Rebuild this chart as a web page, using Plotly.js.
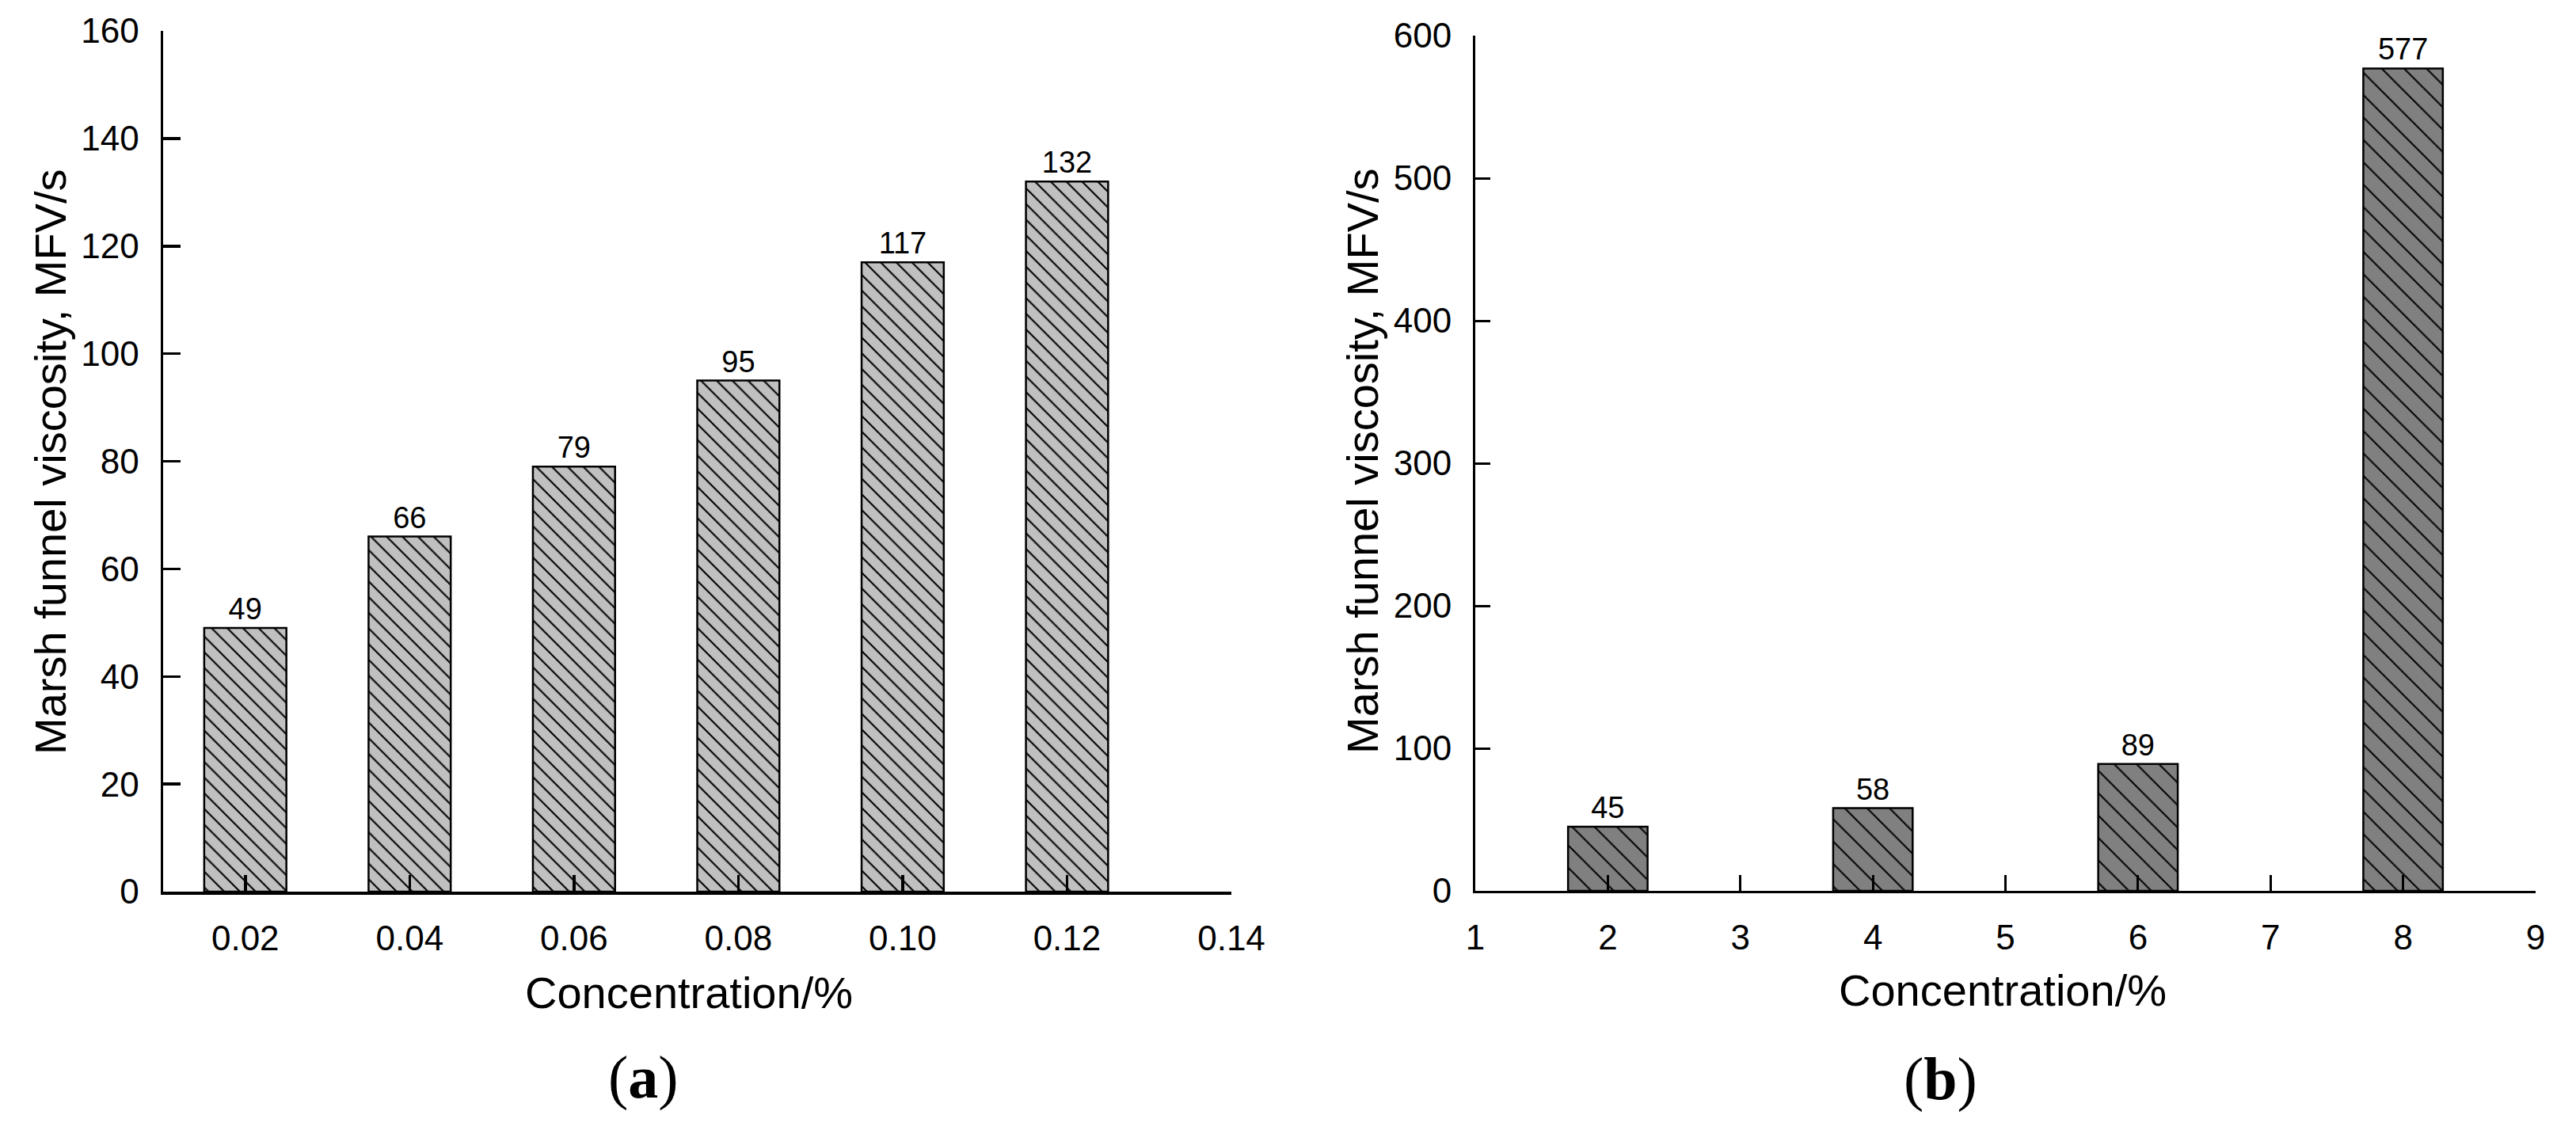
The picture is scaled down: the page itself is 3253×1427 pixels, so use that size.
<!DOCTYPE html>
<html>
<head>
<meta charset="utf-8">
<script src="https://cdn.plot.ly/plotly-3.0.1.min.js"></script>
<style>html,body{margin:0;padding:0;background:#fff;}#chart{width:3253px;height:1427px;}</style>
</head>
<body>
<div id="chart"></div>
<script>
// Panel (a)
const concA = [0.02, 0.04, 0.06, 0.08, 0.10, 0.12];
const mfvA = [49, 66, 79, 95, 117, 132];
const tickValsA = [0.02, 0.04, 0.06, 0.08, 0.10, 0.12, 0.14];
const tickTextA = ["0.02", "0.04", "0.06", "0.08", "0.10", "0.12", "0.14"];
// Panel (b)
const concB = [2, 4, 6, 8];
const mfvB = [45, 58, 89, 577];
const tickValsB = [1, 2, 3, 4, 5, 6, 7, 8, 9];

const W = 3253, H = 1427;
const FONT = 'Arial, "Liberation Sans", sans-serif';
const px = v => v / W;
const py = v => 1 - v / H;

const traceA = {
  type: 'bar', x: concA, y: mfvA, width: 0.01,
  xaxis: 'x', yaxis: 'y',
  marker: {
    color: '#c0c0c0',
    line: {color: '#000', width: 2.5},
    pattern: {shape: '\\', fgcolor: '#000', bgcolor: '#c0c0c0', fillmode: 'replace', size: 14, solidity: 0.15}
  },
  text: mfvA.map(String), textposition: 'outside', cliponaxis: false,
  constraintext: 'none', textangle: 0,
  textfont: {family: FONT, size: 38, color: '#000'},
  hoverinfo: 'x+y'
};
const traceB = {
  type: 'bar', x: concB, y: mfvB, width: 0.6,
  xaxis: 'x2', yaxis: 'y2',
  marker: {
    color: '#808080',
    line: {color: '#000', width: 2.5},
    pattern: {shape: '\\', fgcolor: '#000', bgcolor: '#808080', fillmode: 'replace', size: 20, solidity: 0.1}
  },
  text: mfvB.map(String), textposition: 'outside', cliponaxis: false,
  constraintext: 'none', textangle: 0,
  textfont: {family: FONT, size: 38, color: '#000'},
  hoverinfo: 'x+y'
};

const axCommon = {
  showgrid: false, zeroline: false, showline: true, linecolor: '#000',
  ticks: 'inside', tickcolor: '#000', mirror: false,
  tickfont: {family: FONT, size: 44, color: '#000'},
  fixedrange: true
};

const layout = {
  width: W, height: H,
  margin: {l: 0, r: 0, t: 0, b: 0},
  paper_bgcolor: '#fff', plot_bgcolor: 'rgba(0,0,0,0)',
  showlegend: false,
  font: {family: FONT, color: '#000'},
  xaxis: Object.assign({}, axCommon, {
    domain: [px(206), px(1555)], anchor: 'y',
    range: [0.01, 0.14], tickmode: 'array', tickvals: tickValsA, ticktext: tickTextA,
    linewidth: 3.5, tickwidth: 3.5, ticklen: 21, ticklabelstandoff: 18
  }),
  yaxis: Object.assign({}, axCommon, {
    domain: [py(1126), py(39)], anchor: 'x',
    range: [0, 160], dtick: 20, tick0: 0,
    linewidth: 3.5, tickwidth: 3.5, ticklen: 22, ticklabelstandoff: 18
  }),
  xaxis2: Object.assign({}, axCommon, {
    domain: [px(1863), px(3202)], anchor: 'y2',
    range: [1, 9], tickmode: 'array', tickvals: tickValsB,
    linewidth: 3, tickwidth: 3, ticklen: 20, ticklabelstandoff: 18
  }),
  yaxis2: Object.assign({}, axCommon, {
    domain: [py(1125), py(45)], anchor: 'x2',
    range: [0, 600], dtick: 100, tick0: 0,
    linewidth: 3, tickwidth: 3, ticklen: 19, ticklabelstandoff: 18
  }),
  annotations: [
    {text: 'Marsh funnel viscosity, MFV/s', xref: 'paper', yref: 'paper',
     x: px(63), y: py(583), xanchor: 'center', yanchor: 'middle', textangle: -90,
     showarrow: false, font: {family: FONT, size: 56, color: '#000'}},
    {text: 'Concentration/%', xref: 'paper', yref: 'paper',
     x: px(870), y: py(1253), xanchor: 'center', yanchor: 'middle',
     showarrow: false, font: {family: FONT, size: 56, color: '#000'}},
    {text: '(<b>a</b>)', xref: 'paper', yref: 'paper',
     x: px(812), y: py(1360), xanchor: 'center', yanchor: 'middle',
     showarrow: false, font: {family: '"Times New Roman", "Liberation Serif", serif', size: 76, color: '#000'}},
    {text: 'Marsh funnel viscosity, MFV/s', xref: 'paper', yref: 'paper',
     x: px(1720), y: py(582), xanchor: 'center', yanchor: 'middle', textangle: -90,
     showarrow: false, font: {family: FONT, size: 56, color: '#000'}},
    {text: 'Concentration/%', xref: 'paper', yref: 'paper',
     x: px(2529), y: py(1250), xanchor: 'center', yanchor: 'middle',
     showarrow: false, font: {family: FONT, size: 56, color: '#000'}},
    {text: '(<b>b</b>)', xref: 'paper', yref: 'paper',
     x: px(2450), y: py(1362), xanchor: 'center', yanchor: 'middle',
     showarrow: false, font: {family: '"Times New Roman", "Liberation Serif", serif', size: 76, color: '#000'}}
  ]
};

Plotly.newPlot('chart', [traceA, traceB], layout, {displayModeBar: false, staticPlot: true});
</script>
</body>
</html>
